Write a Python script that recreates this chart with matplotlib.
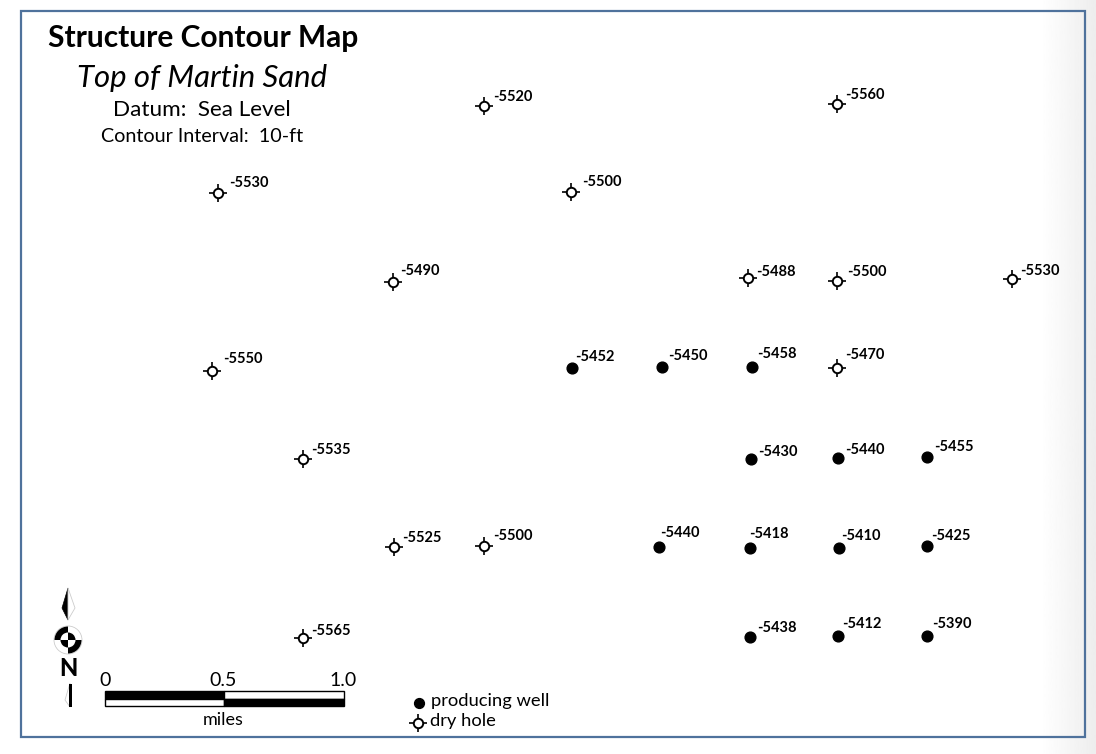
import numpy as np
import matplotlib
matplotlib.use('Agg')
import matplotlib.pyplot as plt
from matplotlib.patches import Rectangle, Polygon, Wedge, Circle

plt.rcParams['font.family'] = ['Lato', 'DejaVu Sans']

# map positions (pixel grid of the map)
dry_x = [484, 837, 218, 571, 393, 748, 837, 1012, 212, 837, 303, 394, 484, 303]
dry_y = [106, 104, 193, 192, 282, 278, 281, 279, 371, 368, 459, 547, 546, 638]
dry_depth = [-5520, -5560, -5530, -5500, -5490, -5488, -5500, -5530, -5550, -5470, -5535, -5525, -5500, -5565]
dry_label_x = [493, 845, 229, 582, 400, 756, 847, 1020, 223, 845, 311, 402, 493, 311]
dry_label_y = [97, 95, 183, 182, 271, 272, 272, 271, 359, 355, 450, 538, 536, 631]

prod_x = [572, 662, 752, 751, 838, 927, 659, 750, 839, 927, 750, 838, 927]
prod_y = [368, 367, 367, 459, 458, 457, 547, 548, 548, 546, 637, 636, 636]
prod_depth = [-5452, -5450, -5458, -5430, -5440, -5455, -5440, -5418, -5410, -5425, -5438, -5412, -5390]
prod_label_x = [575, 668, 757, 758, 845, 934, 660, 749, 841, 931, 757, 842, 932]
prod_label_y = [357, 356, 354, 452, 450, 447, 533, 534, 536, 536, 628, 624, 624]

scale_ticks = ['0', '0.5', '1.0']

frame_color = '#4f729c'


def draw_dry(ax, x, y):
    ax.scatter(x, y, marker='+', s=165, c='black', linewidths=1.2, zorder=3)
    ax.scatter(x, y, marker='o', s=46, facecolors='white', edgecolors='black', linewidths=1.4, zorder=4)


fig = plt.figure(figsize=(10.96, 7.54), dpi=100)
ax = fig.add_axes([0, 0, 1, 1])
ax.set_xlim(0, 1096)
ax.set_ylim(754, 0)
ax.axis('off')

# grey fade on the right hand side
fade = np.linspace(0, 1, 64).reshape(1, -1)
ax.imshow(1 - 0.07 * fade, extent=[1040, 1096, 754, 0], cmap='gray', vmin=0, vmax=1, aspect='auto', zorder=0)
ax.set_xlim(0, 1096)
ax.set_ylim(754, 0)

ax.add_patch(Rectangle((21, 11), 1064, 726, fill=False, ec=frame_color, lw=1.6, zorder=1))

# titles
ax.text(203, 38, 'Structure Contour Map', fontsize=21.5, fontweight='bold', ha='center', va='center')
ax.text(202, 78, 'Top of Martin Sand', fontsize=22.4, fontstyle='italic', ha='center', va='center')
ax.text(202, 110, 'Datum:  Sea Level', fontsize=16.2, ha='center', va='center')
ax.text(202, 137, 'Contour Interval:  10-ft', fontsize=14.2, ha='center', va='center')

# wells
draw_dry(ax, dry_x, dry_y)
ax.scatter(prod_x, prod_y, marker='o', s=60, c='black', zorder=3)
for lx, ly, d in zip(dry_label_x, dry_label_y, dry_depth):
    ax.text(lx, ly, str(d), fontsize=10.5, fontweight='bold', ha='left', va='center')
for lx, ly, d in zip(prod_label_x, prod_label_y, prod_depth):
    ax.text(lx, ly, str(d), fontsize=10.5, fontweight='bold', ha='left', va='center')

# legend
ax.scatter([419], [703], marker='o', s=50, c='black', zorder=3)
draw_dry(ax, [418], [723])
ax.text(431, 701, 'producing well', fontsize=13.2, ha='left', va='center')
ax.text(430, 721, 'dry hole', fontsize=13.2, ha='left', va='center')

# scale bar
bar_left, bar_mid, bar_right = 105, 224, 344
ax.add_patch(Rectangle((bar_left, 691), bar_mid - bar_left, 7.5, fc='black', ec='black', lw=1))
ax.add_patch(Rectangle((bar_mid, 691), bar_right - bar_mid, 7.5, fc='white', ec='black', lw=1))
ax.add_patch(Rectangle((bar_left, 698.5), bar_mid - bar_left, 7.5, fc='white', ec='black', lw=1))
ax.add_patch(Rectangle((bar_mid, 698.5), bar_right - bar_mid, 7.5, fc='black', ec='black', lw=1))
for pos, lab in zip([105, 223, 343], scale_ticks):
    ax.text(pos, 680, lab, fontsize=14, ha='center', va='center')
ax.text(223, 720, 'miles', fontsize=13, ha='center', va='center')

# north arrow
ax.add_patch(Polygon([(68, 588), (62, 608), (68, 620)], fc='black', ec='black', lw=0.5))
ax.add_patch(Polygon([(68, 588), (75, 608), (68, 620)], fc='white', ec='#cccccc', lw=0.6))
ax.add_patch(Polygon([(70, 683), (65, 700), (70, 707)], fc='white', ec='#cccccc', lw=0.6))
ax.add_patch(Rectangle((68.5, 684), 3.5, 23, fc='black', ec='none'))
ax.add_patch(Circle((68, 640), 14, fc='white', ec='#cccccc', lw=0.6))
# y axis points down so the wedge angles run clockwise on screen
ax.add_patch(Wedge((68, 640), 13.5, 180, 270, width=6, fc='black', ec='none'))
ax.add_patch(Wedge((68, 640), 13.5, 0, 90, width=6, fc='black', ec='none'))
ax.add_patch(Wedge((68, 640), 7.5, 270, 360, fc='black', ec='none'))
ax.add_patch(Wedge((68, 640), 7.5, 90, 180, fc='black', ec='none'))
ax.text(68, 668, 'N', fontsize=17, fontweight='black', ha='center', va='center')

fig.savefig('out.png', dpi=100)
